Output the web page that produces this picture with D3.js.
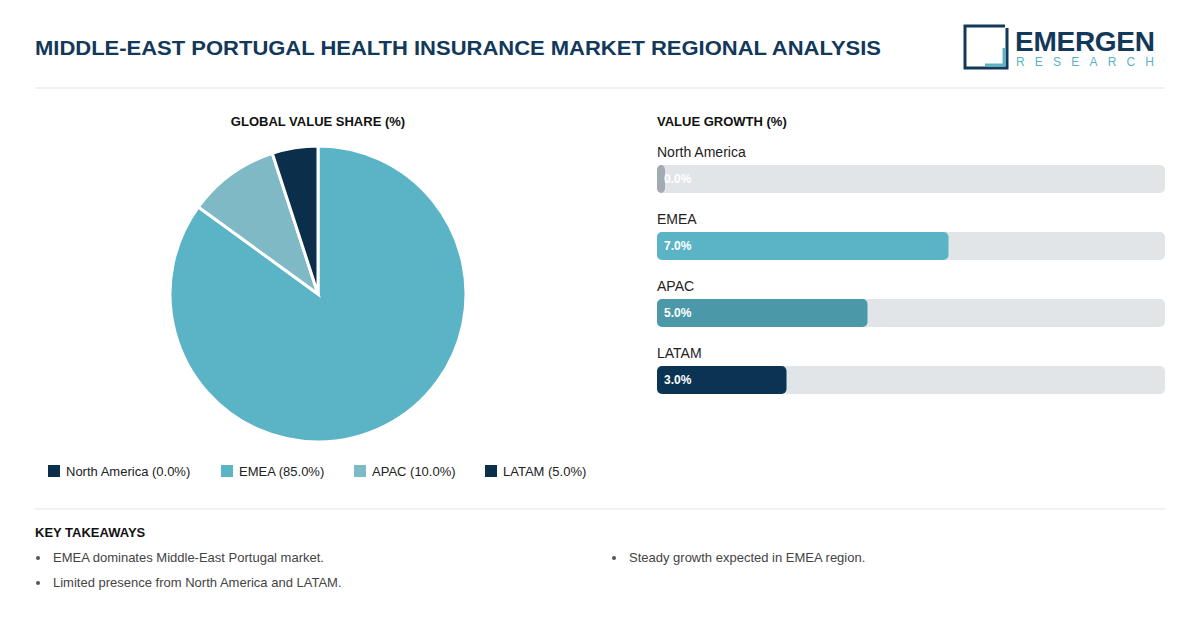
<!DOCTYPE html><html><head><meta charset="utf-8"><script src="https://cdn.jsdelivr.net/npm/d3@7"></script>
<style>body{margin:0;background:#fff;font-family:"Liberation Sans",Arial,sans-serif}</style></head><body><svg id="c" width="1200" height="620"></svg>
<script>
const regions=["North America","EMEA","APAC","LATAM"];
const shares=[0.0,85.0,10.0,5.0];
const growth=[0.0,7.0,5.0,3.0];
const pieColors=["#0b2e4a","#5ab4c5","#7fb9c6","#0b2e4a"];
const barColors=["#a3aab2","#5ab4c5","#4a98a8","#0b3354"];
const takeaways=[["EMEA dominates Middle-East Portugal market.","Limited presence from North America and LATAM."],["Steady growth expected in EMEA region."]];
const svg=d3.select("#c");
svg.append("text").attr("x",35).attr("y",55).text("MIDDLE-EAST PORTUGAL HEALTH INSURANCE MARKET REGIONAL ANALYSIS").attr("font-size",20).attr("font-weight","bold").attr("fill","#12385a").attr("textLength",846).attr("lengthAdjust","spacingAndGlyphs");
// logo
svg.append("path").attr("d","M1005,26 L965,26 L965,68 L1007,68 L1007,28").attr("fill","none").attr("stroke","#12385a").attr("stroke-width",3);
svg.append("path").attr("d","M1004,48 L1004,65 L985,65").attr("fill","none").attr("stroke","#5ab4c5").attr("stroke-width",3);
svg.append("text").attr("x",1015).attr("y",51).text("EMERGEN").attr("font-size",28).attr("font-weight","bold").attr("fill","#12385a").attr("textLength",140);
svg.append("text").attr("x",1016).attr("y",66).text("RESEARCH").attr("font-size",12).attr("fill","#5ab4c5").attr("textLength",138);
svg.append("line").attr("x1",35).attr("x2",1165).attr("y1",88).attr("y2",88).attr("stroke","#e3e3e3");
svg.append("line").attr("x1",35).attr("x2",1165).attr("y1",509).attr("y2",509).attr("stroke","#e3e3e3");
// pie
svg.append("text").attr("x",318).attr("y",126).attr("text-anchor","middle").text("GLOBAL VALUE SHARE (%)").attr("font-size",13).attr("font-weight","bold").attr("fill","#111");
const pie=d3.pie().sort(null).value(d=>d)(shares);
const arc=d3.arc().innerRadius(0).outerRadius(148);
svg.append("g").attr("transform","translate(318,294)").selectAll("path").data(pie).join("path").attr("d",arc).attr("fill",(d,i)=>pieColors[i]).attr("stroke","#fff").attr("stroke-width",3);
const lx=[48,221,354,485];
regions.forEach((r,i)=>{const g=svg.append("g").attr("transform",`translate(${lx[i]},465)`);
g.append("rect").attr("width",12).attr("height",12).attr("fill",pieColors[i]);
g.append("text").attr("x",18).attr("y",11).text(`${r} (${shares[i].toFixed(1)}%)`).attr("font-size",13).attr("fill","#222");});
// bars
svg.append("text").attr("x",657).attr("y",126).text("VALUE GROWTH (%)").attr("font-size",13).attr("font-weight","bold").attr("fill","#111");
const x=d3.scaleLinear().domain([0,12]).range([8,494]);
regions.forEach((r,i)=>{const y=165+i*67;
svg.append("text").attr("x",657).attr("y",y-8).text(r).attr("font-size",14).attr("fill","#222");
svg.append("rect").attr("x",657).attr("y",y).attr("width",508).attr("height",28).attr("rx",5).attr("fill","#e2e5e8");
svg.append("rect").attr("x",657).attr("y",y).attr("width",x(growth[i])).attr("height",28).attr("rx",5).attr("fill",barColors[i]);
svg.append("text").attr("x",664).attr("y",y+18).text(growth[i].toFixed(1)+"%").attr("font-size",12).attr("font-weight","bold").attr("fill","#fff");});
// takeaways
svg.append("text").attr("x",35).attr("y",537).text("KEY TAKEAWAYS").attr("font-size",13).attr("font-weight","bold").attr("fill","#111");
const cx=[38,614];
takeaways.forEach((col,c)=>col.forEach((t,j)=>{const y=562+j*25;
svg.append("circle").attr("cx",cx[c]).attr("cy",y-4).attr("r",2).attr("fill","#555");
svg.append("text").attr("x",cx[c]+15).attr("y",y).text(t).attr("font-size",13).attr("fill","#444");}));
</script></body></html>
